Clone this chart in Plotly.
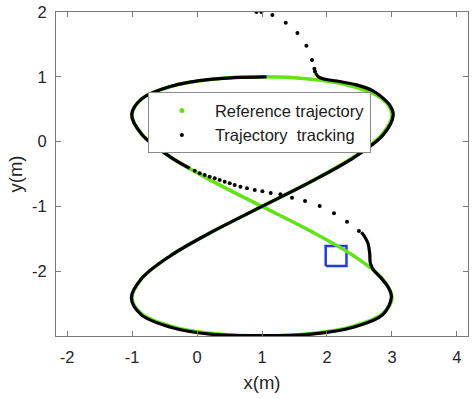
import plotly.graph_objects as go

# ---------------- data ----------------
# Reference figure-eight trajectory (m)
ref_x = [1.0, 1.765, 2.414, 2.848, 3.0, 2.848, 2.414, 1.765, 1.0, 0.235, -0.414, -0.848,
         -1.0, -0.848, -0.414, 0.235, 1.0, 1.765, 2.414, 2.848, 3.0, 2.848, 2.414, 1.765,
         1.0, 0.235, -0.414, -0.848, -1.0, -0.848, -0.414, 0.235, 1.0]
ref_y = [1.0, 0.962, 0.848, 0.663, 0.414, 0.111, -0.235, -0.610, -1.0, -1.390, -1.765, -2.111,
         -2.414, -2.663, -2.848, -2.962, -3.0, -2.962, -2.848, -2.663, -2.414, -2.111, -1.765, -1.390,
         -1.0, -0.610, -0.235, 0.111, 0.414, 0.663, 0.848, 0.962, 1.0]

# Tracking trajectory: initial approach (sparse samples)
trk_start_x = [0.914, 0.991, 1.160, 1.365, 1.545, 1.683, 1.769, 1.806, 1.815]
trk_start_y = [2.0, 2.0, 1.954, 1.835, 1.675, 1.479, 1.258, 1.124, 1.082]

# Tracking trajectory: first dense part (on the path, until the obstacle)
trk_loop1_x = [1.826, 1.862, 1.938, 2.195, 2.452, 2.708, 2.862, 2.975, 3.02, 2.87, 2.43, 1.77,
               1.0, 0.235, -0.414, -0.85, -1.01, -0.86, -0.42, 0.235, 1.0, 1.765, 2.42, 2.86,
               2.991, 2.938, 2.837, 2.718, 2.668, 2.657, 2.631, 2.580, 2.529]
trk_loop1_y = [1.057, 1.005, 0.969, 0.927, 0.876, 0.784, 0.671, 0.55, 0.413, 0.11, -0.235, -0.61,
               -1.0, -1.39, -1.765, -2.11, -2.414, -2.67, -2.86, -2.975, -2.995, -2.97, -2.86, -2.67,
               -2.396, -2.241, -2.111, -1.983, -1.879, -1.725, -1.570, -1.468, -1.400]

# Tracking trajectory: recovery after the obstacle (sparse samples)
trk_recover_x = [2.492, 2.308, 2.108, 1.888, 1.662, 1.462, 1.283, 1.134, 1.006, 0.888, 0.769,
                 0.668, 0.580, 0.503, 0.426, 0.349, 0.272, 0.195, 0.118, 0.041, -0.035]
trk_recover_y = [-1.380, -1.236, -1.107, -0.994, -0.917, -0.866, -0.813, -0.793, -0.767, -0.747, -0.720,
                 -0.695, -0.669, -0.643, -0.618, -0.592, -0.566, -0.541, -0.515, -0.488, -0.448]

# Tracking trajectory: second dense part (back on the path)
trk_loop2_x = [-0.112, -0.414, -0.848, -1.005, -0.848, -0.414, 0.235, 1.07]
trk_loop2_y = [-0.411, -0.235, 0.111, 0.414, 0.663, 0.85, 0.964, 1.0]

# Obstacle (blue square)
obst_x = [1.98, 2.30, 2.30, 1.98, 1.98]
obst_y = [-1.92, -1.92, -1.61, -1.61, -1.92]

# Axis ticks
x_ticks = [-2, -1, 0, 1, 2, 3, 4]
x_tick_text = ["-2", "-1", "0", "1", "2", "3", "4"]
y_ticks = [-2, -1, 0, 1, 2]
y_tick_text = ["-2", "-1", "0", "1", "2"]

GREEN = "rgb(100,226,20)"
BLACK = "#000000"
BLUE = "rgb(35,55,235)"
FONT = "Liberation Sans, Arial, sans-serif"

fig = go.Figure()

fig.add_trace(go.Scatter(x=obst_x, y=obst_y, mode="lines",
                         line=dict(color=BLUE, width=2.5), showlegend=False, hoverinfo="skip"))

fig.add_trace(go.Scatter(x=ref_x, y=ref_y, mode="lines",
                         line=dict(color=GREEN, width=3.6, shape="spline"),
                         showlegend=False))

fig.add_trace(go.Scatter(x=trk_loop1_x, y=trk_loop1_y, mode="lines",
                         line=dict(color=BLACK, width=3.2, shape="spline"), showlegend=False))
fig.add_trace(go.Scatter(x=trk_loop2_x, y=trk_loop2_y, mode="lines",
                         line=dict(color=BLACK, width=3.2, shape="spline"), showlegend=False))
fig.add_trace(go.Scatter(x=trk_start_x, y=trk_start_y, mode="markers",
                         marker=dict(color=BLACK, size=4), showlegend=False))
fig.add_trace(go.Scatter(x=trk_recover_x, y=trk_recover_y, mode="markers",
                         marker=dict(color=BLACK, size=4), showlegend=False))

# legend entries (dot symbols, as in the reference)
fig.add_trace(go.Scatter(x=[None], y=[None], mode="markers", name="Reference trajectory",
                         marker=dict(color=GREEN, size=5)))
fig.add_trace(go.Scatter(x=[None], y=[None], mode="markers", name="Trajectory  tracking",
                         marker=dict(color=BLACK, size=4)))

axis_common = dict(
    showgrid=False, zeroline=False, showline=True, linecolor="#7a7a7a", linewidth=1,
    mirror="ticks", ticks="inside", ticklen=5, tickcolor="#7a7a7a", tickwidth=1,
    tickfont=dict(family=FONT, size=16.5, color="#262626"), automargin=False,
)

fig.update_layout(
    width=474, height=399,
    margin=dict(l=56, r=6, t=12, b=63, autoexpand=False),
    paper_bgcolor="white", plot_bgcolor="white",
    font=dict(family=FONT, color="#262626"),
    xaxis=dict(range=[-2.17, 4.17], tickvals=x_ticks, ticktext=x_tick_text, ticklabelstandoff=6,
               title=dict(text="x(m)", font=dict(family=FONT, size=18.5, color="#262626"), standoff=11),
               **axis_common),
    yaxis=dict(range=[-3, 2], tickvals=y_ticks, ticktext=y_tick_text, ticklabelstandoff=5,
               title=dict(text="y(m)", font=dict(family=FONT, size=18.5, color="#262626"), standoff=4),
               **axis_common),
    legend=dict(x=0.223, y=0.752, xanchor="left", yanchor="top",
                bgcolor="white", bordercolor="#8a8a8a", borderwidth=1,
                font=dict(family=FONT, size=16.5, color="#1a1a1a"),
                itemwidth=56, tracegroupgap=0),
    showlegend=True,
)

fig.write_html("out.html", config={"displayModeBar": False},
               post_script="document.body.style.margin='0px';document.body.style.overflow='hidden';")
